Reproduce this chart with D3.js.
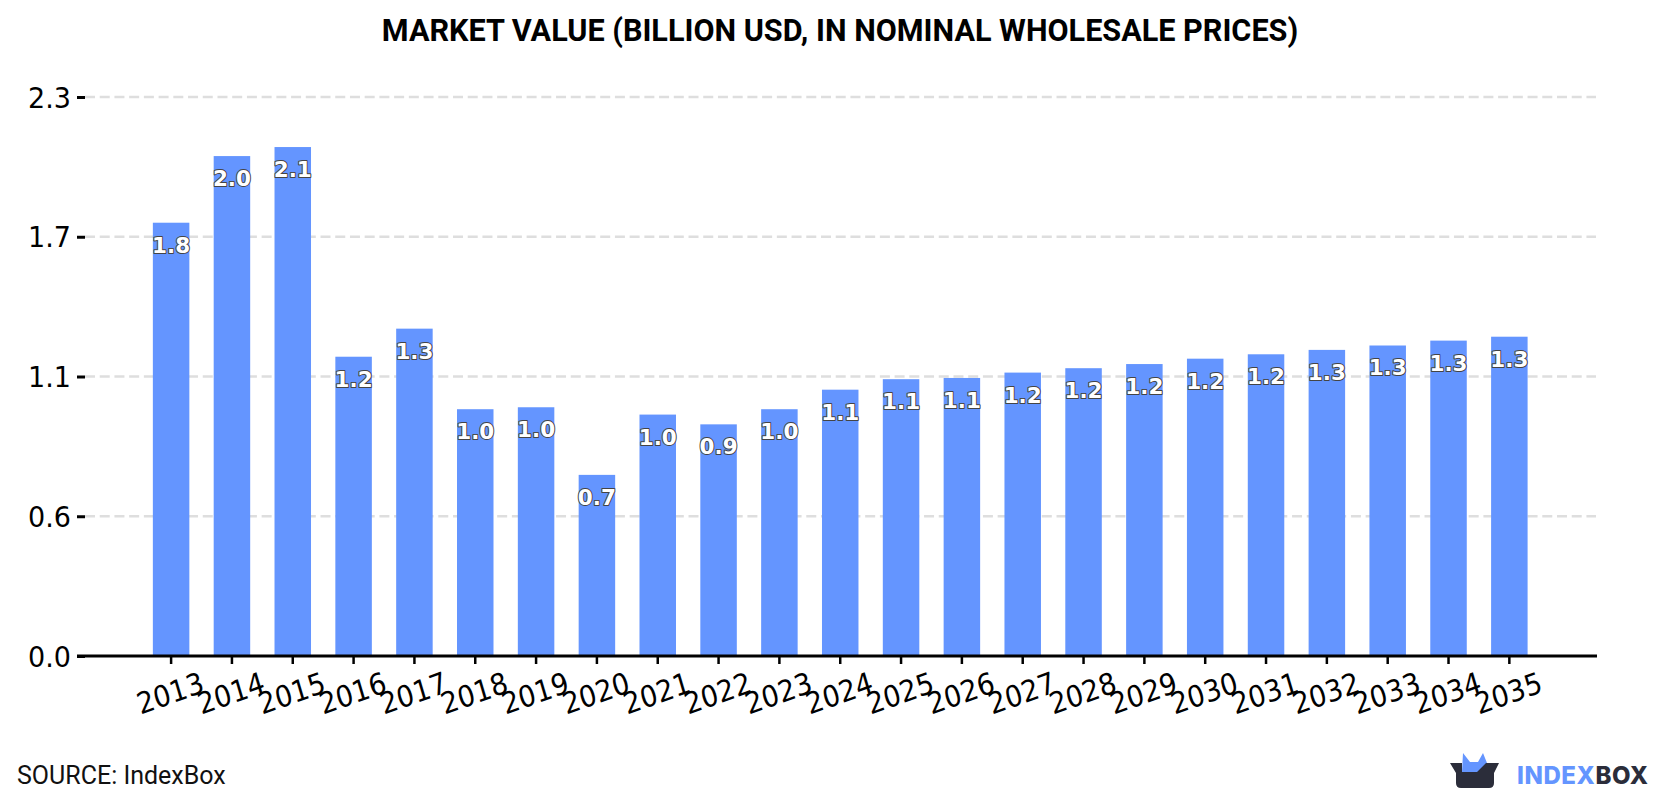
<!DOCTYPE html>
<html>
<head>
<meta charset="utf-8">
<script src="https://cdn.jsdelivr.net/npm/d3@7/dist/d3.min.js"></script>
<style>
html,body{margin:0;padding:0;background:#fff}
svg{display:block}
</style>
</head>
<body>
<svg id="chart" width="1680" height="800"></svg>
<script>
// Market value series, billion USD
const years = ["2013","2014","2015","2016","2017","2018","2019","2020","2021","2022","2023","2024","2025","2026","2027","2028","2029","2030","2031","2032","2033","2034","2035"];
const marketValue = [1.775,2.048,2.085,1.226,1.341,1.011,1.019,0.742,0.989,0.949,1.011,1.091,1.134,1.139,1.161,1.179,1.196,1.218,1.236,1.254,1.272,1.292,1.308];
const yTickValues = [0,0.5725,1.145,1.7175,2.29];

const svg = d3.select("#chart");
const plotLeft = 85, plotRight = 1596, plotTop = 97, plotBottom = 656;

const x = d3.scaleBand().domain(years).range([plotLeft, plotRight]).paddingInner(0.4).paddingOuter(1.12).align(0.498);
const y = d3.scaleLinear().domain([0, 2.29]).range([plotBottom, plotTop]);

svg.append("text").attr("x", 840).attr("y", 41).attr("text-anchor", "middle")
  .attr("font-family", "Roboto").attr("font-weight", 700).attr("font-size", 30.6).attr("fill", "#000")
  .text("MARKET VALUE (BILLION USD, IN NOMINAL WHOLESALE PRICES)");

// Dashed horizontal grid
svg.append("g").selectAll("line").data(yTickValues.slice(1)).join("line")
  .attr("x1", plotLeft).attr("x2", plotRight)
  .attr("y1", d => y(d)).attr("y2", d => y(d))
  .attr("stroke", "#dedede").attr("stroke-width", 2.5).attr("stroke-dasharray", "10 4.72");

// Bars
svg.append("g").selectAll("rect").data(marketValue).join("rect")
  .attr("x", (d, i) => x(years[i])).attr("width", x.bandwidth())
  .attr("y", d => y(d)).attr("height", d => plotBottom - y(d))
  .attr("fill", "#6495ff");

// Value labels, white with a dark outline
svg.append("g").selectAll("text").data(marketValue).join("text")
  .attr("x", (d, i) => x(years[i]) + x.bandwidth() / 2)
  .attr("y", d => y(d) + 30)
  .attr("text-anchor", "middle")
  .attr("font-family", "DejaVu Sans").attr("font-weight", 700).attr("font-size", 21.5)
  .attr("fill", "#fff").attr("stroke", "#444").attr("stroke-width", 2)
  .attr("paint-order", "stroke").attr("stroke-linejoin", "round")
  .text(d => d3.format(".1f")(d));

// Value axis
const yAxis = svg.append("g").attr("transform", `translate(${plotLeft},0)`)
  .call(d3.axisLeft(y).tickValues(yTickValues).tickFormat(d3.format(".1f")).tickSize(8));
yAxis.select(".domain").remove();
yAxis.selectAll("line").attr("stroke", "#000").attr("stroke-width", 3);
yAxis.selectAll("text")
  .attr("font-family", "DejaVu Sans").attr("font-size", 27).attr("fill", "#000")
  .attr("x", 0).attr("y", 0).attr("dy", "0.36em")
  .attr("transform", "translate(-14,0) scale(1,1.05)");

// Year axis
const xAxis = svg.append("g").attr("transform", `translate(0,${plotBottom})`)
  .call(d3.axisBottom(x).tickSize(8));
xAxis.select(".domain").attr("d", `M${plotLeft - 8},0H${plotRight + 1}`).attr("stroke", "#000").attr("stroke-width", 3);
xAxis.selectAll("line").attr("stroke", "#000").attr("stroke-width", 2.5);
xAxis.selectAll("text")
  .attr("font-family", "DejaVu Sans").attr("font-size", 27).attr("fill", "#000")
  .attr("text-anchor", "middle")
  .attr("x", 0).attr("y", 0).attr("dy", "0.36em")
  .attr("transform", "translate(-1,37) scale(1,1.1) rotate(-18)");

svg.append("text").attr("x", 17).attr("y", 784)
  .attr("font-family", "Roboto").attr("font-size", 25).attr("fill", "#111")
  .text("SOURCE: IndexBox");

// Brand mark
const logo = svg.append("g");
logo.append("path").attr("d", "M1462,772 L1463,753 L1470,762 H1478 L1483,753 L1487,763 L1477,773 Z").attr("fill", "#6495ff");
logo.append("path").attr("d", "M1450,763 H1499 L1494,773 V783 Q1494,788 1489,788 H1461 Q1456,788 1456,783 V773 Z M1462,763 V772 H1477 L1486,763 Z").attr("fill", "#2b2d3a").attr("fill-rule", "evenodd");
const brand = svg.append("text").attr("x", 1517).attr("y", 784)
  .attr("font-family", "Inter").attr("font-weight", 800).attr("font-size", 24).attr("letter-spacing", 0.6);
brand.append("tspan").attr("fill", "#6495ff").text("INDEX");
brand.append("tspan").attr("fill", "#2b2d3a").text("BOX");
</script>
</body>
</html>
